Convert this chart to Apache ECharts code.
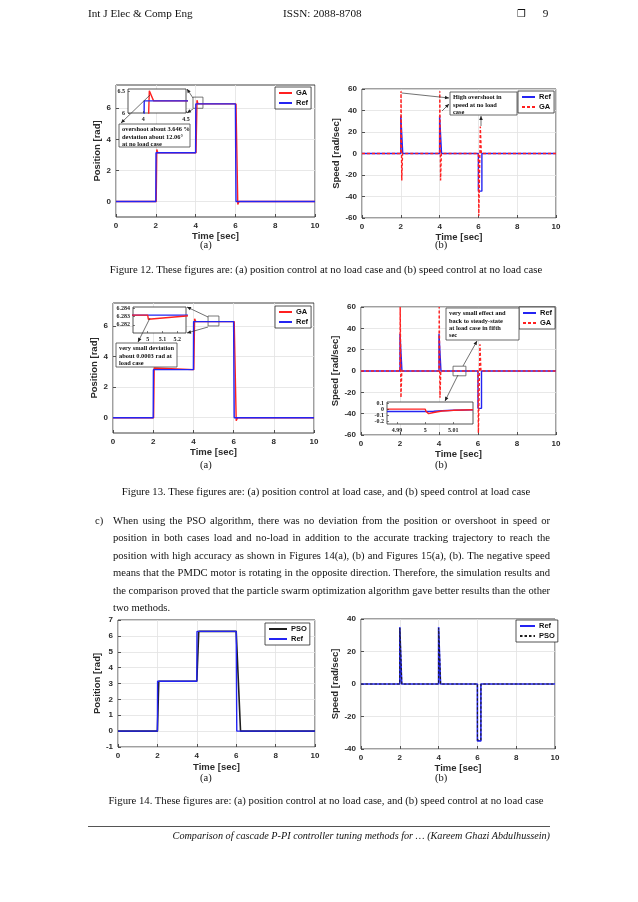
<!DOCTYPE html>
<html><head><meta charset="utf-8">
<script src="https://cdn.jsdelivr.net/npm/echarts@6.0.0/dist/echarts.min.js"></script>
<style>
html,body{margin:0;padding:0;background:#fff;}
#page{position:relative;width:638px;height:902px;overflow:hidden;font-family:"Liberation Serif","Times New Roman",serif;color:#111;}
#chart{position:absolute;left:0;top:0;width:638px;height:902px;}
.t{position:absolute;white-space:nowrap;line-height:12px;}
.cap{position:absolute;left:0;width:652px;text-align:center;font-size:10.7px;line-height:12px;white-space:nowrap;}
.sub{position:absolute;font-size:10.5px;line-height:12px;}
.pl{position:absolute;left:113px;width:437px;font-size:10.6px;line-height:12px;text-align:justify;text-align-last:justify;white-space:nowrap;}
</style></head>
<body><div id="page">
<div id="chart"></div>
<div class="t" style="left:88px;top:7px;font-size:11.2px;">Int J Elec &amp; Comp Eng</div>
<div class="t" style="left:283px;top:7px;font-size:11.2px;">ISSN: 2088-8708</div>
<div class="t" style="left:517px;top:7px;font-size:11.2px;"><span style="font-family:'DejaVu Sans';font-size:10px;">&#x2752;</span>&nbsp;&nbsp;&nbsp;&nbsp;&nbsp;&nbsp;9</div>

<div class="sub" style="left:200px;top:239px;">(a)</div>
<div class="sub" style="left:435px;top:239px;">(b)</div>
<div class="cap" style="top:263px;">Figure 12. These figures are: (a) position control at no load case and (b) speed control at no load case</div>

<div class="sub" style="left:200px;top:459px;">(a)</div>
<div class="sub" style="left:435px;top:459px;">(b)</div>
<div class="cap" style="top:485px;">Figure 13. These figures are: (a) position control at load case, and (b) speed control at load case</div>

<div class="t" style="left:95px;top:515px;font-size:10.6px;">c)</div>
<div class="pl" style="top:515px;">When using the PSO algorithm, there was no deviation from the position or overshoot in speed or</div>
<div class="pl" style="top:532.4px;">position in both cases load and no-load in addition to the accurate tracking trajectory to reach the</div>
<div class="pl" style="top:549.8px;">position with high accuracy as shown in Figures 14(a), (b) and Figures 15(a), (b). The negative speed</div>
<div class="pl" style="top:567.2px;">means that the PMDC motor is rotating in the opposite direction. Therefore, the simulation results and</div>
<div class="pl" style="top:584.6px;">the comparison proved that the particle swarm optimization algorithm gave better results than the other</div>
<div class="pl" style="top:602px;text-align-last:left;">two methods.</div>

<div class="sub" style="left:200px;top:772px;">(a)</div>
<div class="sub" style="left:435px;top:772px;">(b)</div>
<div class="cap" style="top:794px;">Figure 14. These figures are: (a) position control at no load case, and (b) speed control at no load case</div>

<div style="position:absolute;left:88px;top:826px;width:462px;height:0;border-top:1px solid #555;"></div>
<div class="t" style="right:88px;top:830px;font-size:10.2px;font-style:italic;">Comparison of cascade P-PI controller tuning methods for … (Kareem Ghazi Abdulhussein)</div>
</div>
<script>
// ---------------- data ----------------
const timeTicks = [0, 2, 4, 6, 8, 10];
const posTicks = [0, 2, 4, 6];
// reference position (rad)
const refPosT = [0, 2, 2.01, 4, 4.01, 6, 6.03, 10];
const refPos  = [0, 0, 3.1416, 3.1416, 6.2832, 6.2832, 0, 0];
// GA position, no load
const gaPosNoLoadT = [0, 2.02, 2.05, 2.1, 4.02, 4.07, 4.12, 6.03, 6.12, 6.18, 10];
const gaPosNoLoad  = [0, 0, 3.35, 3.1416, 3.1416, 6.52, 6.2832, 6.2832, -0.2, 0, 0];
// GA position, load
const gaPosLoadT = [0, 2.02, 2.05, 2.1, 4.02, 4.06, 4.12, 5.0, 5.004, 5.26, 5.5, 6.03, 6.13, 6.2, 10];
const gaPosLoad  = [0, 0, 3.25, 3.1416, 3.1416, 6.47, 6.2832, 6.2832, 6.2827, 6.2831, 6.2832, 6.2832, -0.2, 0, 0];
// PSO position
const psoPosT = [0, 2, 2.07, 4, 4.1, 6, 6.22, 10];
const psoPos  = [0, 0, 3.1416, 3.1416, 6.2832, 6.2832, 0, 0];
// reference speed (rad/sec)
const refSpdT = [0, 2, 2, 2.1, 2.1, 4, 4, 4.1, 4.1, 6, 6, 6.18, 6.18, 10];
const refSpd  = [0, 0, 35, 35, 0, 0, 35, 35, 0, 0, -35, -35, 0, 0];
// GA speed, no load
const gaSpdNoLoadT = [0, 2, 2.01, 2.05, 2.09, 4, 4.01, 4.05, 4.09, 6, 6.02, 6.1, 6.15, 10];
const gaSpdNoLoad  = [0, 0, 58, -25, 0, 0, 58, -25, 0, 0, -58, 25, 0, 0];
// GA speed, load
const gaSpdLoadT = [0, 2, 2.01, 2.05, 2.09, 4, 4.01, 4.05, 4.09, 6, 6.02, 6.1, 6.15, 10];
const gaSpdLoad  = [0, 0, 60, -25, 0, 0, 60, -25, 0, 0, -58, 25, 0, 0];
// PSO speed
const psoSpdT = [0, 2, 2.005, 2.1, 2.105, 4, 4.005, 4.1, 4.105, 6, 6.005, 6.18, 6.185, 10];
const psoSpd  = [0, 0, 34.5, 34.5, 0, 0, 34.5, 34.5, 0, 0, -34.5, -34.5, 0, 0];
// zoomed detail of speed at t = 5 s (load case)
const zoomSpdT   = [4.9864, 4.995, 5.0, 5.0003, 5.0012, 5.003, 5.006, 5.01, 5.017];
const zoomSpdRef = [-0.04, -0.04, -0.04, -0.04, -0.04, -0.036, -0.028, -0.02, -0.012];
const zoomSpdGA  = [0, 0, 0, -0.04, -0.075, -0.056, -0.032, -0.02, -0.01];
// inset tick values
const inset1X = [4, 4.5], inset1Y = [6, 6.5];
const inset2X = [5, 5.1, 5.2], inset2Y = [6.282, 6.283, 6.284];
const inset3X = [4.99, 5, 5.01], inset3Y = [-0.2, -0.1, 0, 0.1];

// ---------------- helpers ----------------
const SANS = '"Liberation Sans", Arial, sans-serif';
const SERIF = '"Liberation Serif", "Times New Roman", serif';
const BLUE = '#2424f2', RED = '#ff2020', BLACK = '#1e1e1e';
const AX = '#2a2a2a';
const pairs = (t, v) => t.map((x, i) => [x, v[i]]);

function grid(l, t, w, h, inset) {
  return { left: l, top: t, width: w, height: h, show: true, containLabel: false, outerBoundsMode: 'none',
    borderColor: AX, borderWidth: inset ? 0.8 : 0.9, backgroundColor: '#fff', z: inset ? 4 : 0 };
}
const tickStyle = { inside: true, length: 3, lineStyle: { color: AX, width: 0.8 } };
const labelStyle = { fontFamily: SANS, fontWeight: 'bold', fontSize: 8, color: AX, margin: 5 };
function mainX(gi, gap) {
  return { type: 'value', gridIndex: gi, min: 0, max: 10, interval: 2,
    name: 'Time [sec]', nameLocation: 'middle', nameGap: gap,
    nameTextStyle: { fontFamily: SANS, fontWeight: 'bold', fontSize: 9.5, color: AX },
    axisLine: { show: false, onZero: false }, axisTick: Object.assign({}, tickStyle, { customValues: timeTicks }),
    axisLabel: Object.assign({}, labelStyle, { customValues: timeTicks }),
    splitLine: { show: true, lineStyle: { color: '#e2e2e2', width: 0.8 } } };
}
function mainY(gi, name, gap, min, max, ticks) {
  return { type: 'value', gridIndex: gi, min: min, max: max,
    name: name, nameLocation: 'middle', nameGap: gap,
    nameTextStyle: { fontFamily: SANS, fontWeight: 'bold', fontSize: 9.5, color: AX },
    axisLine: { show: false, onZero: false },
    axisTick: Object.assign({}, tickStyle, { customValues: ticks }),
    axisLabel: Object.assign({}, labelStyle, { customValues: ticks }),
    splitLine: { show: true, lineStyle: { color: '#e2e2e2', width: 0.8 } } };
}
function insetAxis(gi, min, max, vals, fmt) {
  return { type: 'value', gridIndex: gi, min: min, max: max, z: 6,
    axisLine: { show: false, onZero: false },
    axisTick: { inside: true, length: 2, customValues: vals, lineStyle: { color: AX, width: 0.6 } },
    axisLabel: { customValues: vals, fontFamily: SERIF, fontWeight: 'bold', fontSize: 6, color: '#222', margin: 3,
      formatter: fmt || (v => String(v)) },
    splitLine: { show: false } };
}
function line(name, xi, t, v, color, opts) {
  return Object.assign({ type: 'line', name: name, xAxisIndex: xi, yAxisIndex: xi, data: pairs(t, v),
    symbol: 'none', showSymbol: false, animation: false,
    lineStyle: { color: color, width: 1.4 }, itemStyle: { color: color } }, opts || {});
}
function dashed(name, xi, t, v, color, opts) {
  return line(name, xi, t, v, color, Object.assign({ lineStyle: { color: color, width: 1.4, type: [3, 2] } }, opts || {}));
}
function zoomBox(a, b) {
  return { silent: true, itemStyle: { color: 'rgba(0,0,0,0)', borderColor: '#555', borderWidth: 0.8 },
    data: [[{ coord: a }, { coord: b }]] };
}
function legend(names, l, t, iw) {
  return { data: names, left: l, top: t, orient: 'vertical', itemWidth: iw || 13, itemHeight: 6, itemGap: 2,
    padding: [2, 3, 2, 3], borderColor: AX, borderWidth: 0.8, backgroundColor: '#fff', borderRadius: 0,
    selectedMode: false,
    itemStyle: { color: 'rgba(0,0,0,0)', borderWidth: 0, opacity: 0 },
    textStyle: { fontFamily: SANS, fontWeight: 'bold', fontSize: 7.5, color: '#111', padding: [0, 0, 0, -1] },
    formatter: n => n.split('-')[0] };
}
const G = [];
function note(x, y, w, h, txt) {
  G.push({ type: 'rect', shape: { x: x, y: y, width: w, height: h }, style: { fill: '#fff', stroke: '#444', lineWidth: 0.8 }, z: 20 });
  G.push({ type: 'text', x: x + 3, y: y + 2, style: { text: txt, font: 'bold 6.4px ' + SERIF, fill: '#111', lineHeight: 7.3 }, z: 21 });
}
function arrow(x1, y1, x2, y2) {
  const a = Math.atan2(y2 - y1, x2 - x1), L = 4, W = 1.8;
  const p1 = [x2 - L * Math.cos(a) + W * Math.sin(a), y2 - L * Math.sin(a) - W * Math.cos(a)];
  const p2 = [x2 - L * Math.cos(a) - W * Math.sin(a), y2 - L * Math.sin(a) + W * Math.cos(a)];
  G.push({ type: 'line', shape: { x1: x1, y1: y1, x2: x2, y2: y2 }, style: { stroke: '#333', lineWidth: 0.7 }, z: 22 });
  G.push({ type: 'polygon', shape: { points: [[x2, y2], p1, p2] }, style: { fill: '#222' }, z: 22 });
}

// annotations
note(119, 124, 71, 23, 'overshoot about 3.646 %\ndeviation about 12.06°\nat no load case');
arrow(193, 98, 187, 89); arrow(193, 109, 187, 113); arrow(150, 95, 121, 123);
note(450, 92, 67, 23, 'High overshoot in\nspeed at no load\ncase');
arrow(402, 93, 449, 98); arrow(442, 111, 449, 104); arrow(481, 126, 481, 116);
note(116, 343, 61, 24, 'very small deviation\nabout 0.0003 rad at\nload case');
arrow(208, 317, 187, 307); arrow(208, 327, 187, 333); arrow(150, 318, 138, 342);
note(446, 308, 73, 32, 'very small effect and\nback to steady-state\nat load case in fifth\nsec');
arrow(463, 366, 477, 341); arrow(458, 375, 445, 401);

const spd60 = [-60, -40, -20, 0, 20, 40, 60];
const spd40 = [-40, -20, 0, 20, 40];
const pos14 = [-1, 0, 1, 2, 3, 4, 5, 6, 7];
const fix3 = v => v.toFixed(3);
const option = {
  animation: false,
  backgroundColor: 'transparent',
  grid: [
    grid(116, 85, 199, 132), grid(128, 89, 58, 24, true),
    grid(362, 89, 194, 129),
    grid(113, 303, 201, 130), grid(133, 307, 53, 26, true),
    grid(361, 307, 195, 128), grid(387, 402, 86, 22, true),
    grid(118, 620, 197, 127), grid(361, 619, 194, 130)
  ],
  xAxis: [
    mainX(0, 14), insetAxis(1, 3.82, 4.5, inset1X),
    mainX(2, 12.5),
    mainX(3, 14.5), insetAxis(4, 4.9, 5.26, inset2X),
    mainX(5, 13.5), insetAxis(6, 4.9864, 5.017, inset3X),
    mainX(7, 15.5), mainX(8, 13.5)
  ],
  yAxis: [
    mainY(0, 'Position [rad]', 11.5, -1, 7.5, posTicks),
    insetAxis(1, 6, 6.56, inset1Y),
    mainY(2, 'Speed [rad/sec]', 19.5, -60, 60, spd60),
    mainY(3, 'Position [rad]', 10.5, -1, 7.5, posTicks),
    insetAxis(4, 6.2810, 6.2842, inset2Y, fix3),
    mainY(5, 'Speed [rad/sec]', 18.5, -60, 60, spd60),
    insetAxis(6, -0.25, 0.12, inset3Y),
    mainY(7, 'Position [rad]', 11.5, -1, 7, pos14),
    mainY(8, 'Speed [rad/sec]', 19.5, -40, 40, spd40)
  ],
  legend: [
    legend(['GA', 'Ref'], 275, 87),
    legend(['Ref', 'GA-d'], 518, 91),
    legend(['GA', 'Ref'], 275, 306),
    legend(['Ref', 'GA-d'], 519, 307),
    legend(['PSO', 'Ref'], 265, 623, 18),
    legend(['Ref', 'PSO-d'], 516, 620, 15)
  ],
  graphic: G,
  series: [
    // Fig 12(a)
    line('GA', 0, gaPosNoLoadT, gaPosNoLoad, RED, { markArea: zoomBox([3.87, 6.0], [4.37, 6.72]) }),
    line('Ref', 0, refPosT, refPos, BLUE),
    line('GA-i1', 1, gaPosNoLoadT, gaPosNoLoad, RED, { z: 5 }),
    line('Ref-i1', 1, refPosT, refPos, BLUE, { z: 5 }),
    // Fig 12(b)
    line('Ref', 2, refSpdT, refSpd, BLUE),
    dashed('GA-d', 2, gaSpdNoLoadT, gaSpdNoLoad, RED),
    // Fig 13(a)
    line('GA', 3, gaPosLoadT, gaPosLoad, RED, { markArea: zoomBox([4.73, 6.0], [5.27, 6.65]) }),
    line('Ref', 3, refPosT, refPos, BLUE),
    line('Ref-i2', 4, refPosT, refPos, BLUE, { z: 5 }),
    line('GA-i2', 4, gaPosLoadT, gaPosLoad, RED, { z: 5 }),
    // Fig 13(b)
    line('Ref', 5, refSpdT, refSpd, BLUE, { markArea: zoomBox([4.72, -4.5], [5.38, 4.5]) }),
    dashed('GA-d', 5, gaSpdLoadT, gaSpdLoad, RED),
    line('Ref-i3', 6, zoomSpdT, zoomSpdRef, BLUE, { z: 5 }),
    line('GA-i3', 6, zoomSpdT, zoomSpdGA, RED, { z: 5 }),
    // Fig 14(a)
    line('PSO', 7, psoPosT, psoPos, BLACK, { lineStyle: { color: BLACK, width: 1.6 } }),
    line('Ref', 7, refPosT, refPos, BLUE),
    // Fig 14(b)
    line('Ref', 8, refSpdT, refSpd, BLUE, { lineStyle: { color: BLUE, width: 1.6 } }),
    dashed('PSO-d', 8, psoSpdT, psoSpd, BLACK, { lineStyle: { color: BLACK, width: 1.1, type: [2.5, 2] } })
  ]
};
const chart = echarts.init(document.getElementById('chart'), null, { renderer: 'canvas' });
chart.setOption(option);
</script>
</body></html>
